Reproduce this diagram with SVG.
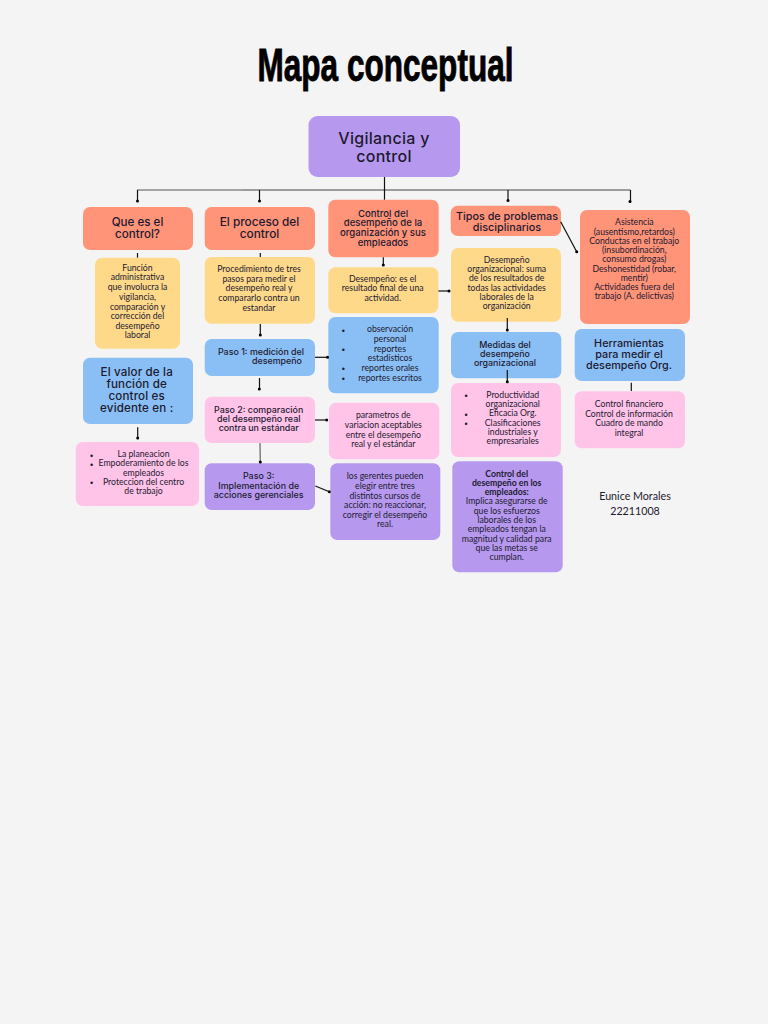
<svg xmlns="http://www.w3.org/2000/svg" width="768" height="1024" viewBox="0 0 768 1024">
<style>
.o{fill:#ff9478}.y{fill:#ffd98a}.u{fill:#8abff5}.p{fill:#ffc4e8}.v{fill:#b699ee}
text{text-anchor:middle;fill:#1d1930}
.h{font-family:"Inter","Liberation Sans",sans-serif;font-weight:500}
.s{font-family:"Inter","Liberation Sans",sans-serif;font-weight:500;font-size:8.9px}
.b{font-family:"Lato","Liberation Sans",sans-serif;font-size:8.7px}
.d{font-family:"Liberation Sans",sans-serif;font-size:9px}
#connectors line{stroke:#111;stroke-width:1.2}
#connectors circle{fill:#000}
</style>
<rect width="768" height="1024" fill="#f4f4f4"/>
<g id="title"><text x="385.500" y="81" font-family="Liberation Sans,sans-serif" font-weight="700" font-size="47" textLength="256" lengthAdjust="spacingAndGlyphs" stroke="#000" stroke-width="0.900" style="fill:#000">Mapa conceptual</text></g>
<g id="n1"><rect class="v" x="308.500" y="116" width="151.500" height="61" rx="9"/><text class="h" font-size="16" letter-spacing="0.300"><tspan x="384" y="143.600">Vigilancia y</tspan><tspan x="384" y="162">control</tspan></text></g>
<g id="n2"><rect class="o" x="83" y="207" width="110" height="43" rx="7"/><text class="h" font-size="11.600"><tspan x="137.500" y="226">Que es el</tspan><tspan x="137.500" y="238.300">control?</tspan></text></g>
<g id="n3"><rect class="o" x="204.700" y="207" width="110.300" height="43" rx="7"/><text class="h" font-size="11.800"><tspan x="259.500" y="226">El proceso del</tspan><tspan x="259.500" y="238.300">control</tspan></text></g>
<g id="n4"><rect class="o" x="328.300" y="199.700" width="110.400" height="57.600" rx="7"/><text class="h" font-size="9.600"><tspan x="383" y="216.700">Control del</tspan><tspan x="383" y="226.400">desempeño  de la</tspan><tspan x="383" y="236">organización y sus</tspan><tspan x="383" y="245.700">empleados</tspan></text></g>
<g id="n5"><rect class="o" x="450.700" y="205.700" width="110.300" height="30.300" rx="7"/><text class="h" font-size="10.800"><tspan x="507" y="220">Tipos de problemas</tspan><tspan x="507" y="231">disciplinarios</tspan></text></g>
<g id="n6"><rect class="o" x="580" y="210" width="110" height="114" rx="7"/><text class="b"><tspan x="634.300" y="225">Asistencia</tspan><tspan x="634.300" y="235">(ausentismo,retardos)</tspan><tspan x="634.300" y="244.300">Conductas en el trabajo</tspan><tspan x="634.300" y="253.300">(insubordinación,</tspan><tspan x="634.300" y="262.300">consumo drogas)</tspan><tspan x="634.300" y="271.700">Deshonestidad (robar,</tspan><tspan x="634.300" y="281">mentir)</tspan><tspan x="634.300" y="290.200">Actividades fuera del</tspan><tspan x="634.300" y="299.300">trabajo (A. delictivas)</tspan></text></g>
<g id="n7"><rect class="y" x="95" y="257.700" width="85" height="91" rx="7"/><text class="b"><tspan x="137.500" y="270.700">Función</tspan><tspan x="137.500" y="280.400">administrativa</tspan><tspan x="137.500" y="290">que involucra la</tspan><tspan x="137.500" y="300">vigilancia,</tspan><tspan x="137.500" y="309.700">comparación y</tspan><tspan x="137.500" y="319">corrección del</tspan><tspan x="137.500" y="328.800">desempeño</tspan><tspan x="137.500" y="338">laboral</tspan></text></g>
<g id="n8"><rect class="y" x="204.700" y="257" width="110.300" height="66.700" rx="7"/><text class="b"><tspan x="259" y="271.700">Procedimiento de tres</tspan><tspan x="259" y="281.700">pasos para medir el</tspan><tspan x="259" y="291.400">desempeño real y</tspan><tspan x="259" y="301">compararlo contra un</tspan><tspan x="259" y="310.700">estandar</tspan></text></g>
<g id="n9"><rect class="y" x="328.300" y="267.300" width="110" height="46" rx="7"/><text class="b"><tspan x="382.700" y="281.700">Desempeño: es el</tspan><tspan x="382.700" y="291">resultado final de una</tspan><tspan x="382.700" y="300.700">actividad.</tspan></text></g>
<g id="n10"><rect class="y" x="451" y="248" width="110" height="73.700" rx="7"/><text class="b"><tspan x="506.700" y="262.700">Desempeño</tspan><tspan x="506.700" y="272">organizacional: suma</tspan><tspan x="506.700" y="281.300">de los resultados de</tspan><tspan x="506.700" y="291">todas las actividades</tspan><tspan x="506.700" y="300.200">laborales de la</tspan><tspan x="506.700" y="309.400">organización</tspan></text></g>
<g id="n11"><rect class="u" x="83" y="357.700" width="110" height="66.300" rx="7"/><text class="h" font-size="11.600" letter-spacing="0.150"><tspan x="136.700" y="375.700">El valor de la</tspan><tspan x="136.700" y="387.800">función de</tspan><tspan x="136.700" y="400">control es</tspan><tspan x="136.700" y="412.100">evidente en :</tspan></text></g>
<g id="n12"><rect class="u" x="204.700" y="339" width="110.300" height="37" rx="7"/><text class="s"><tspan x="261" y="355">Paso 1: medición del</tspan><tspan x="277" y="364.200">desempeño</tspan></text></g>
<g id="n13"><rect class="u" x="328.300" y="317" width="110.400" height="76.300" rx="7"/><text class="b"><tspan x="390" y="331.700">observación</tspan><tspan x="390" y="341.700">personal</tspan><tspan x="390" y="351.700">reportes</tspan><tspan x="390" y="361">estadísticos</tspan><tspan x="390" y="371">reportes orales</tspan><tspan x="390" y="380.700">reportes escritos</tspan></text><text class="d"><tspan x="343.300" y="333.500">•</tspan><tspan x="343.300" y="352.500">•</tspan><tspan x="343.300" y="372">•</tspan><tspan x="343.300" y="382">•</tspan></text></g>
<g id="n14"><rect class="u" x="451" y="332" width="110.300" height="46.300" rx="7"/><text class="s"><tspan x="505" y="347.700">Medidas del</tspan><tspan x="505" y="356.900">desempeño</tspan><tspan x="505" y="366">organizacional</tspan></text></g>
<g id="n15"><rect class="u" x="574.700" y="329" width="110.300" height="52" rx="7"/><text class="h" font-size="10.800"><tspan x="629" y="346.700">Herramientas</tspan><tspan x="629" y="357.700">para medir el</tspan><tspan x="629" y="368.700">desempeño Org.</tspan></text></g>
<g id="n16"><rect class="p" x="75.700" y="442" width="123.300" height="64" rx="7"/><text class="b"><tspan x="143.500" y="457">La planeacion</tspan><tspan x="143.500" y="466.400">Empoderamiento de los</tspan><tspan x="143.500" y="476">empleados</tspan><tspan x="143.500" y="485.200">Proteccion del centro</tspan><tspan x="143.500" y="494.400">de trabajo</tspan></text><text class="d"><tspan x="91.700" y="458.500">•</tspan><tspan x="91.700" y="467.500">•</tspan><tspan x="91.700" y="486">•</tspan></text></g>
<g id="n17"><rect class="p" x="204.700" y="396.700" width="110.300" height="46.300" rx="7"/><text class="s"><tspan x="258.700" y="412.700">Paso 2: comparación</tspan><tspan x="258.700" y="421.800">del desempeño real</tspan><tspan x="258.700" y="431">contra un estándar</tspan></text></g>
<g id="n18"><rect class="p" x="329" y="402.700" width="110.300" height="56.600" rx="7"/><text class="b"><tspan x="383.300" y="418">parametros de</tspan><tspan x="383.300" y="428">variacion aceptables</tspan><tspan x="383.300" y="437.500">entre el desempeño</tspan><tspan x="383.300" y="447">real y el estándar</tspan></text></g>
<g id="n19"><rect class="p" x="451" y="383" width="110" height="74" rx="7"/><text class="b"><tspan x="512.700" y="397.700">Productividad</tspan><tspan x="512.700" y="406.900">organizacional</tspan><tspan x="512.700" y="416.300">Eficacia Org.</tspan><tspan x="512.700" y="426">Clasificaciones</tspan><tspan x="512.700" y="435.200">industriales y</tspan><tspan x="512.700" y="444.400">empresariales</tspan></text><text class="d"><tspan x="466" y="399">•</tspan><tspan x="466" y="417.500">•</tspan><tspan x="466" y="426.500">•</tspan></text></g>
<g id="n20"><rect class="p" x="574.700" y="391.300" width="110.300" height="57" rx="7"/><text class="b"><tspan x="629" y="406.700">Control financiero</tspan><tspan x="629" y="416.500">Control de información</tspan><tspan x="629" y="426">Cuadro de mando</tspan><tspan x="629" y="435.700">integral</tspan></text></g>
<g id="n21"><rect class="v" x="204.700" y="463.300" width="110.300" height="46.700" rx="7"/><text class="s"><tspan x="258.700" y="478.700">Paso 3:</tspan><tspan x="258.700" y="488.500">Implementación de</tspan><tspan x="258.700" y="497.900">acciones gerenciales</tspan></text></g>
<g id="n22"><rect class="v" x="330.300" y="463.300" width="110" height="76.700" rx="7"/><text class="b"><tspan x="385" y="479.300">los gerentes pueden</tspan><tspan x="385" y="489">elegir entre tres</tspan><tspan x="385" y="498.500">distintos cursos de</tspan><tspan x="385" y="508.300">acción: no reaccionar,</tspan><tspan x="385" y="518">corregir el desempeño</tspan><tspan x="385" y="527.200">real.</tspan></text></g>
<g id="n23"><rect class="v" x="452.300" y="461.300" width="110.400" height="111" rx="7"/><text class="b"><tspan x="506.700" y="476.700" font-weight="700">Control del</tspan><tspan x="506.700" y="486" font-weight="700">desempeño en los</tspan><tspan x="506.700" y="495" font-weight="700">empleados:</tspan><tspan x="506.700" y="504.400">Implica asegurarse de</tspan><tspan x="506.700" y="514">que los esfuerzos</tspan><tspan x="506.700" y="523.200">laborales de los</tspan><tspan x="506.700" y="532.400">empleados tengan la</tspan><tspan x="506.700" y="541.600">magnitud y calidad para</tspan><tspan x="506.700" y="551">que las metas se</tspan><tspan x="506.700" y="560.200">cumplan.</tspan></text></g>
<g id="author"><text font-family="Lato,Liberation Sans,sans-serif" font-size="10.700"><tspan x="635" y="500">Eunice Morales</tspan><tspan x="635" y="515">22211008</tspan></text></g>
<g id="connectors">
<line x1="137" y1="190" x2="243" y2="190" style="stroke:#8a8a8a;stroke-width:1.5"/>
<line x1="243" y1="190" x2="630.500" y2="190" style="stroke:#444"/>
<line x1="137.500" y1="190" x2="137.500" y2="201"/><circle cx="137.500" cy="201" r="1.500"/>
<line x1="259.500" y1="190" x2="259.500" y2="201"/><circle cx="259.500" cy="201" r="1.500"/>
<line x1="384.500" y1="177" x2="384.500" y2="199.700"/>
<line x1="508" y1="190" x2="508" y2="200"/><circle cx="508" cy="200.500" r="1.500"/>
<line x1="630.500" y1="190" x2="630.500" y2="201.500"/><circle cx="630" cy="201.500" r="1.500"/>
<line x1="137.500" y1="253" x2="137.500" y2="257.700"/>
<line x1="260.300" y1="253" x2="260.300" y2="257"/>
<line x1="260.300" y1="324" x2="260.300" y2="335"/><circle cx="260.300" cy="335" r="1.500"/>
<line x1="315" y1="357.300" x2="327" y2="357.300"/><circle cx="327.500" cy="357.300" r="1.500"/>
<line x1="259.500" y1="378" x2="259.500" y2="389"/><circle cx="259.300" cy="389" r="1.500"/>
<line x1="137.700" y1="427.300" x2="137.700" y2="438"/><circle cx="137.700" cy="438" r="1.500"/>
<line x1="260" y1="443" x2="260.300" y2="462" style="stroke:#777;stroke-width:1.400"/><circle cx="260.300" cy="462" r="1.500"/>
<line x1="315" y1="420" x2="326.700" y2="420"/><circle cx="326.700" cy="420" r="1.500"/>
<line x1="315.300" y1="486" x2="329.300" y2="491.700"/><circle cx="329.300" cy="491.700" r="1.500"/>
<line x1="383.300" y1="257.300" x2="383.300" y2="265"/><circle cx="383.300" cy="265" r="1.500"/>
<line x1="438.300" y1="291" x2="449" y2="291"/><circle cx="449" cy="291" r="1.500"/>
<line x1="507.300" y1="318" x2="507.300" y2="330"/><circle cx="507.300" cy="330" r="1.500"/>
<line x1="507.300" y1="370" x2="507.300" y2="381.700"/><circle cx="507.300" cy="381.700" r="1.500"/>
<line x1="560.700" y1="221.700" x2="576.700" y2="251.700"/><circle cx="576.700" cy="251.700" r="1.500"/>
<line x1="631.300" y1="382.700" x2="631.300" y2="391"/>
</g>
</svg>
